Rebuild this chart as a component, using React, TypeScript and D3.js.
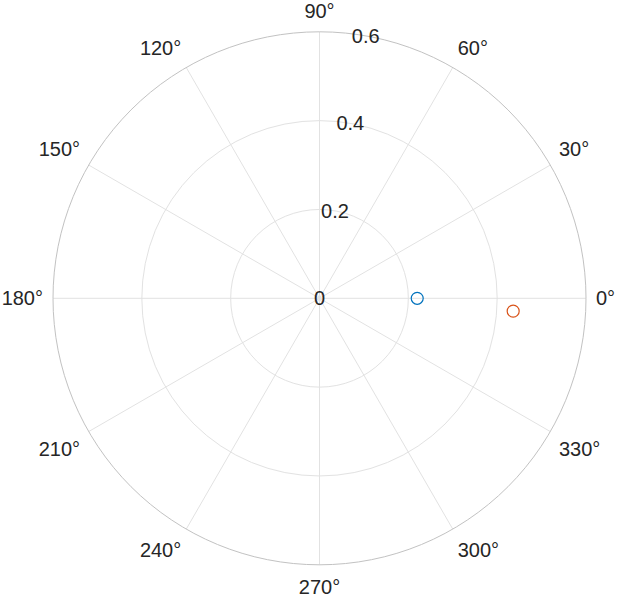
import * as d3 from "d3";
import { useEffect, useRef } from "react";

// theta ticks (degrees) and radial ticks
const thetaTicks: number[] = [0, 30, 60, 90, 120, 150, 180, 210, 240, 270, 300, 330];
const rTicks: number[] = [0.2, 0.4, 0.6];
const rTickLabels: string[] = ["0.2", "0.4", "0.6"];

// two series, one point each (theta in degrees, r)
const series1Theta: number[] = [0];
const series1R: number[] = [0.22];
const series2Theta: number[] = [356.2];
const series2R: number[] = [0.437];

const seriesColors: string[] = ["#0072BD", "#D95319"];

export default function App() {
  const svgRef = useRef<SVGSVGElement>(null);

  const width = 617;
  const height = 598;
  const cx = 319.5;
  const cy = 298.3;
  const R = 266.5;

  useEffect(() => {
    const svg = d3.select(svgRef.current);
    svg.selectAll("*").remove();

    const r = d3.scaleLinear().domain([0, 0.6]).range([0, R]);
    const rad = (deg: number) => (deg * Math.PI) / 180;
    const px = (t: number, v: number) => cx + r(v) * Math.cos(rad(t));
    const py = (t: number, v: number) => cy - r(v) * Math.sin(rad(t));

    const g = svg.append("g");

    // spokes
    g.selectAll("line.spoke")
      .data(thetaTicks)
      .enter()
      .append("line")
      .attr("x1", cx)
      .attr("y1", cy)
      .attr("x2", (d) => px(d, 0.6))
      .attr("y2", (d) => py(d, 0.6))
      .attr("stroke", "#e2e2e2")
      .attr("stroke-width", 1);

    // inner rings
    g.selectAll("circle.ring")
      .data(rTicks.slice(0, -1))
      .enter()
      .append("circle")
      .attr("cx", cx)
      .attr("cy", cy)
      .attr("r", (d) => r(d))
      .attr("fill", "none")
      .attr("stroke", "#e2e2e2")
      .attr("stroke-width", 1);

    // outer edge
    g.append("circle")
      .attr("cx", cx)
      .attr("cy", cy)
      .attr("r", r(0.6))
      .attr("fill", "none")
      .attr("stroke", "#c2c2c2")
      .attr("stroke-width", 1);

    // theta labels
    const gap = 10;
    g.selectAll("text.theta")
      .data(thetaTicks)
      .enter()
      .append("text")
      .attr("x", (d) => cx + (R + gap) * Math.cos(rad(d)))
      .attr("y", (d) => cy - (R + gap) * Math.sin(rad(d)))
      .attr("text-anchor", (d) => {
        const c = Math.cos(rad(d));
        return c > 0.1 ? "start" : c < -0.1 ? "end" : "middle";
      })
      .attr("dy", (d) => {
        const s = Math.sin(rad(d));
        return s > 0.1 ? "-0.2em" : s < -0.1 ? "0.97em" : "0.35em";
      })
      .text((d) => `${d}°`);

    // r labels along 80°
    g.append("text")
      .attr("x", cx)
      .attr("y", cy)
      .attr("text-anchor", "middle")
      .attr("dy", "0.35em")
      .text("0");

    g.selectAll("text.rlab")
      .data(rTicks)
      .enter()
      .append("text")
      .attr("x", (d) => px(80, d))
      .attr("y", (d) => py(80, d))
      .attr("text-anchor", "middle")
      .attr("dy", "0.35em")
      .text((d, i) => rTickLabels[i]);

    g.selectAll("text")
      .attr("font-family", "'Liberation Sans', Arial, sans-serif")
      .attr("font-size", 20)
      .attr("fill", "#262626");

    // data markers
    const all = [
      { theta: series1Theta, r: series1R, color: seriesColors[0] },
      { theta: series2Theta, r: series2R, color: seriesColors[1] },
    ];
    all.forEach((s) => {
      g.selectAll(null)
        .data(s.theta.map((t, i) => ({ t, v: s.r[i] })))
        .enter()
        .append("circle")
        .attr("cx", (d) => px(d.t, d.v))
        .attr("cy", (d) => py(d.t, d.v))
        .attr("r", 6)
        .attr("fill", "none")
        .attr("stroke", s.color)
        .attr("stroke-width", 1.2);
    });
  }, []);

  return (
    <svg
      ref={svgRef}
      width={width}
      height={height}
      style={{ position: "absolute", left: 0, top: 0, background: "#fff" }}
    />
  );
}
